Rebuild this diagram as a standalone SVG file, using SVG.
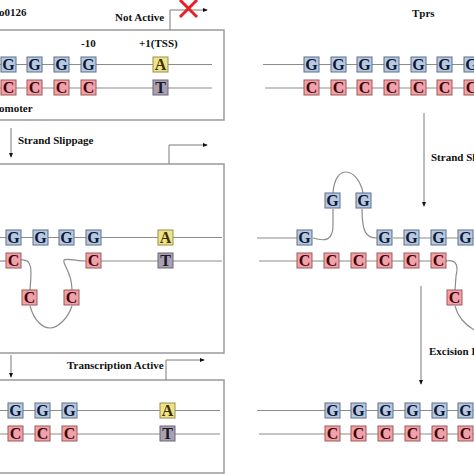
<svg xmlns="http://www.w3.org/2000/svg" width="474" height="474" viewBox="0 0 474 474">
<style>
.bx{fill:none;stroke:#9a9a9a;stroke-width:1.5}
.ln{fill:none;stroke:#8c8c8c;stroke-width:1.2}
.ar{fill:none;stroke:#7a7a7a;stroke-width:1}
.lb{font-family:"Liberation Serif",serif;font-weight:bold;font-size:11px;fill:#111}
.b{font-family:"Liberation Serif",serif;font-weight:bold;font-size:16px;text-anchor:middle}
.rg{fill:#b8c8de;stroke:#5d6f8c;stroke-width:1}
.rc{fill:#f2a1a8;stroke:#9c5a5c;stroke-width:1}
.ra{fill:#eee28a;stroke:#97904c;stroke-width:1}
.rt{fill:#a9a0b2;stroke:#6b6676;stroke-width:1}
.tg{fill:#0e1a3a}
.tc{fill:#3d0808}
.ta{fill:#3a3000}
.tt{fill:#1a1a22}
</style>
<defs>
<marker id="ah" viewBox="0 0 6 6" refX="5" refY="3" markerWidth="5" markerHeight="5" orient="auto"><path d="M0,0.5 L6,3 L0,5.5 Z" fill="#111"/></marker>
</defs>
<rect x="0" y="0" width="474" height="474" fill="#fff"/>

<g id="frames">
<path class="bx" d="M-2,30 H224 V120 H-2"/>
<path class="bx" d="M-2,164 H224 V353 H-2"/>
<path class="bx" d="M-2,380 H224 V473 H-2"/>
</g>

<g id="connectors">
<line class="ln" x1="0" y1="64.5" x2="212" y2="64.5"/>
<line class="ln" x1="0" y1="88" x2="212" y2="88"/>
<line class="ln" x1="0" y1="237.5" x2="222" y2="237.5"/>
<line class="ln" x1="0" y1="261" x2="6" y2="261"/>
<line class="ln" x1="101" y1="261" x2="222" y2="261"/>
<path class="ln" d="M21,260 C34,258 31,275 30,290"/>
<path class="ln" d="M30,306 C34,320 42,328 50,328 C58,328 68,318 72,306"/>
<path class="ln" d="M72,290 C72,272 62,264 64,260 C66,258 78,261 86,261"/>
<line class="ln" x1="0" y1="410.5" x2="220" y2="410.5"/>
<line class="ln" x1="0" y1="434" x2="220" y2="434"/>

<line class="ln" x1="263" y1="64.5" x2="474" y2="64.5"/>
<line class="ln" x1="265" y1="88" x2="474" y2="88"/>
<line class="ln" x1="257" y1="238" x2="297" y2="238"/>
<path class="ln" d="M313,238 C326,242 333,240 333,225 L333,209"/>
<path class="ln" d="M333,193 C334,178 340,172 346,172 C354,172 361,182 363,193"/>
<path class="ln" d="M362,209 C362,232 366,238 377,238"/>
<line class="ln" x1="393" y1="238" x2="474" y2="238"/>
<line class="ln" x1="259" y1="261" x2="447" y2="261"/>
<path class="ln" d="M446,261 C458,259 458,268 456,276 L455,290"/>
<path class="ln" d="M455,306 C458,318 465,325 476,331"/>
<line class="ln" x1="257" y1="410.5" x2="474" y2="410.5"/>
<line class="ln" x1="259" y1="434" x2="474" y2="434"/>

<path class="ar" d="M170,30 V10 H207" marker-end="url(#ah)"/>
<path class="ar" d="M169,164 V145 H207" marker-end="url(#ah)"/>
<path class="ar" d="M166,380 V360 H204" marker-end="url(#ah)"/>
<line class="ar" x1="11" y1="128" x2="11" y2="157" marker-end="url(#ah)"/>
<line class="ar" x1="11" y1="355" x2="11" y2="377" marker-end="url(#ah)"/>
<line class="ar" x1="424" y1="113" x2="424" y2="206" marker-end="url(#ah)"/>
<line class="ar" x1="421" y1="286" x2="421" y2="384" marker-end="url(#ah)"/>
</g>

<g id="redX">
<line x1="180" y1="0" x2="197" y2="17" stroke="#e5202a" stroke-width="3"/>
<line x1="197" y1="0" x2="180" y2="17" stroke="#e5202a" stroke-width="3"/>
</g>

<g id="labels">
<text class="lb" x="-1" y="16">o0126</text>
<text class="lb" x="115" y="20.5">Not Active</text>
<text class="lb" x="81" y="47">-10</text>
<text class="lb" x="139" y="47">+1(TSS)</text>
<text class="lb" x="-1" y="112">omoter</text>
<text class="lb" x="18" y="144">Strand Slippage</text>
<text class="lb" x="67" y="369">Transcription Active</text>
<text class="lb" x="412" y="17">Tprs</text>
<text class="lb" x="431" y="161">Strand Sl</text>
<text class="lb" x="429" y="355">Excision R</text>
</g>

<g id="p1g1"><rect class="rg" x="1" y="57" width="15" height="15"/><text class="b tg" x="8.5" y="70">G</text></g>
<g id="p1g2"><rect class="rg" x="27" y="57" width="15" height="15"/><text class="b tg" x="34.5" y="70">G</text></g>
<g id="p1g3"><rect class="rg" x="54" y="57" width="15" height="15"/><text class="b tg" x="61.5" y="70">G</text></g>
<g id="p1g4"><rect class="rg" x="81" y="57" width="15" height="15"/><text class="b tg" x="88.5" y="70">G</text></g>
<g id="p1a"><rect class="ra" x="153" y="57" width="15" height="15"/><text class="b ta" x="160.5" y="70">A</text></g>
<g id="p1c1"><rect class="rc" x="1" y="80" width="15" height="15"/><text class="b tc" x="8.5" y="93">C</text></g>
<g id="p1c2"><rect class="rc" x="27" y="80" width="15" height="15"/><text class="b tc" x="34.5" y="93">C</text></g>
<g id="p1c3"><rect class="rc" x="54" y="80" width="15" height="15"/><text class="b tc" x="61.5" y="93">C</text></g>
<g id="p1c4"><rect class="rc" x="81" y="80" width="15" height="15"/><text class="b tc" x="88.5" y="93">C</text></g>
<g id="p1t"><rect class="rt" x="153" y="80" width="15" height="15"/><text class="b tt" x="160.5" y="93">T</text></g>

<g id="p2g1"><rect class="rg" x="6" y="230" width="15" height="15"/><text class="b tg" x="13.5" y="243">G</text></g>
<g id="p2g2"><rect class="rg" x="33" y="230" width="15" height="15"/><text class="b tg" x="40.5" y="243">G</text></g>
<g id="p2g3"><rect class="rg" x="59" y="230" width="15" height="15"/><text class="b tg" x="66.5" y="243">G</text></g>
<g id="p2g4"><rect class="rg" x="86" y="230" width="15" height="15"/><text class="b tg" x="93.5" y="243">G</text></g>
<g id="p2a"><rect class="ra" x="158" y="230" width="15" height="15"/><text class="b ta" x="165.5" y="243">A</text></g>
<g id="p2c1"><rect class="rc" x="6" y="253" width="15" height="15"/><text class="b tc" x="13.5" y="266">C</text></g>
<g id="p2c2"><rect class="rc" x="22" y="290" width="15" height="15"/><text class="b tc" x="29.5" y="303">C</text></g>
<g id="p2c3"><rect class="rc" x="64" y="290" width="15" height="15"/><text class="b tc" x="71.5" y="303">C</text></g>
<g id="p2c4"><rect class="rc" x="86" y="253" width="15" height="15"/><text class="b tc" x="93.5" y="266">C</text></g>
<g id="p2t"><rect class="rt" x="158" y="253" width="15" height="15"/><text class="b tt" x="165.5" y="266">T</text></g>

<g id="p3g1"><rect class="rg" x="8" y="403" width="15" height="15"/><text class="b tg" x="15.5" y="416">G</text></g>
<g id="p3g2"><rect class="rg" x="35" y="403" width="15" height="15"/><text class="b tg" x="42.5" y="416">G</text></g>
<g id="p3g3"><rect class="rg" x="62" y="403" width="15" height="15"/><text class="b tg" x="69.5" y="416">G</text></g>
<g id="p3a"><rect class="ra" x="160" y="403" width="15" height="15"/><text class="b ta" x="167.5" y="416">A</text></g>
<g id="p3c1"><rect class="rc" x="8" y="426" width="15" height="15"/><text class="b tc" x="15.5" y="439">C</text></g>
<g id="p3c2"><rect class="rc" x="35" y="426" width="15" height="15"/><text class="b tc" x="42.5" y="439">C</text></g>
<g id="p3c3"><rect class="rc" x="62" y="426" width="15" height="15"/><text class="b tc" x="69.5" y="439">C</text></g>
<g id="p3t"><rect class="rt" x="160" y="426" width="15" height="15"/><text class="b tt" x="167.5" y="439">T</text></g>

<g id="r1g1"><rect class="rg" x="304" y="57" width="15" height="15"/><text class="b tg" x="311.5" y="70">G</text></g>
<g id="r1g2"><rect class="rg" x="331" y="57" width="15" height="15"/><text class="b tg" x="338.5" y="70">G</text></g>
<g id="r1g3"><rect class="rg" x="357" y="57" width="15" height="15"/><text class="b tg" x="364.5" y="70">G</text></g>
<g id="r1g4"><rect class="rg" x="384" y="57" width="15" height="15"/><text class="b tg" x="391.5" y="70">G</text></g>
<g id="r1g5"><rect class="rg" x="411" y="57" width="15" height="15"/><text class="b tg" x="418.5" y="70">G</text></g>
<g id="r1g6"><rect class="rg" x="437" y="57" width="15" height="15"/><text class="b tg" x="444.5" y="70">G</text></g>
<g id="r1g7"><rect class="rg" x="464" y="57" width="15" height="15"/><text class="b tg" x="471.5" y="70">G</text></g>
<g id="r1c1"><rect class="rc" x="304" y="80" width="15" height="15"/><text class="b tc" x="311.5" y="93">C</text></g>
<g id="r1c2"><rect class="rc" x="331" y="80" width="15" height="15"/><text class="b tc" x="338.5" y="93">C</text></g>
<g id="r1c3"><rect class="rc" x="357" y="80" width="15" height="15"/><text class="b tc" x="364.5" y="93">C</text></g>
<g id="r1c4"><rect class="rc" x="384" y="80" width="15" height="15"/><text class="b tc" x="391.5" y="93">C</text></g>
<g id="r1c5"><rect class="rc" x="411" y="80" width="15" height="15"/><text class="b tc" x="418.5" y="93">C</text></g>
<g id="r1c6"><rect class="rc" x="437" y="80" width="15" height="15"/><text class="b tc" x="444.5" y="93">C</text></g>
<g id="r1c7"><rect class="rc" x="464" y="80" width="15" height="15"/><text class="b tc" x="471.5" y="93">C</text></g>

<g id="r2g1"><rect class="rg" x="297" y="230" width="15" height="15"/><text class="b tg" x="304.5" y="243">G</text></g>
<g id="r2g2"><rect class="rg" x="325" y="193" width="15" height="15"/><text class="b tg" x="332.5" y="206">G</text></g>
<g id="r2g3"><rect class="rg" x="356" y="193" width="15" height="15"/><text class="b tg" x="363.5" y="206">G</text></g>
<g id="r2g4"><rect class="rg" x="377" y="230" width="15" height="15"/><text class="b tg" x="384.5" y="243">G</text></g>
<g id="r2g5"><rect class="rg" x="404" y="230" width="15" height="15"/><text class="b tg" x="411.5" y="243">G</text></g>
<g id="r2g6"><rect class="rg" x="431" y="230" width="15" height="15"/><text class="b tg" x="438.5" y="243">G</text></g>
<g id="r2g7"><rect class="rg" x="458" y="230" width="15" height="15"/><text class="b tg" x="465.5" y="243">G</text></g>
<g id="r2c1"><rect class="rc" x="297" y="253" width="15" height="15"/><text class="b tc" x="304.5" y="266">C</text></g>
<g id="r2c2"><rect class="rc" x="324" y="253" width="15" height="15"/><text class="b tc" x="331.5" y="266">C</text></g>
<g id="r2c3"><rect class="rc" x="351" y="253" width="15" height="15"/><text class="b tc" x="358.5" y="266">C</text></g>
<g id="r2c4"><rect class="rc" x="377" y="253" width="15" height="15"/><text class="b tc" x="384.5" y="266">C</text></g>
<g id="r2c5"><rect class="rc" x="404" y="253" width="15" height="15"/><text class="b tc" x="411.5" y="266">C</text></g>
<g id="r2c6"><rect class="rc" x="431" y="253" width="15" height="15"/><text class="b tc" x="438.5" y="266">C</text></g>
<g id="r2c7"><rect class="rc" x="447" y="290" width="15" height="15"/><text class="b tc" x="454.5" y="303">C</text></g>

<g id="r3g1"><rect class="rg" x="325" y="403" width="15" height="15"/><text class="b tg" x="332.5" y="416">G</text></g>
<g id="r3g2"><rect class="rg" x="351" y="403" width="15" height="15"/><text class="b tg" x="358.5" y="416">G</text></g>
<g id="r3g3"><rect class="rg" x="378" y="403" width="15" height="15"/><text class="b tg" x="385.5" y="416">G</text></g>
<g id="r3g4"><rect class="rg" x="405" y="403" width="15" height="15"/><text class="b tg" x="412.5" y="416">G</text></g>
<g id="r3g5"><rect class="rg" x="432" y="403" width="15" height="15"/><text class="b tg" x="439.5" y="416">G</text></g>
<g id="r3g6"><rect class="rg" x="458" y="403" width="15" height="15"/><text class="b tg" x="465.5" y="416">G</text></g>
<g id="r3c1"><rect class="rc" x="325" y="426" width="15" height="15"/><text class="b tc" x="332.5" y="439">C</text></g>
<g id="r3c2"><rect class="rc" x="351" y="426" width="15" height="15"/><text class="b tc" x="358.5" y="439">C</text></g>
<g id="r3c3"><rect class="rc" x="378" y="426" width="15" height="15"/><text class="b tc" x="385.5" y="439">C</text></g>
<g id="r3c4"><rect class="rc" x="405" y="426" width="15" height="15"/><text class="b tc" x="412.5" y="439">C</text></g>
<g id="r3c5"><rect class="rc" x="432" y="426" width="15" height="15"/><text class="b tc" x="439.5" y="439">C</text></g>
<g id="r3c6"><rect class="rc" x="458" y="426" width="15" height="15"/><text class="b tc" x="465.5" y="439">C</text></g>
</svg>
